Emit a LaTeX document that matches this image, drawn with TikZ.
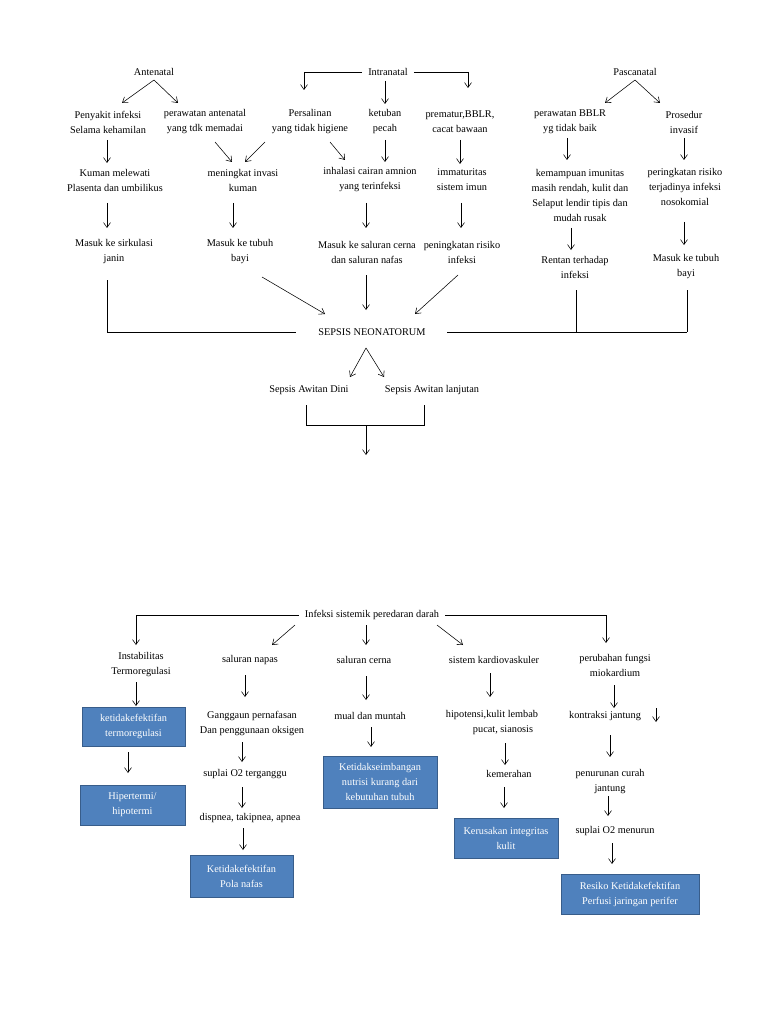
\documentclass[tikz,border=0pt]{standalone}
\usepackage{fontspec}
\setmainfont{Liberation Serif}
\usetikzlibrary{arrows.meta}
\begin{document}
\begin{tikzpicture}[x=1pt,y=-1pt,
  t/.style={align=center,font=\fontsize{10.3}{15}\selectfont,inner sep=1pt},
  bx/.style={t,draw={rgb,255:red,56;green,93;blue,138},fill={rgb,255:red,79;green,129;blue,189},text=white,line width=0.9pt,inner sep=0pt},
  a/.style={-{Straight Barb[length=5pt,width=7pt]},line width=0.55pt},
  l/.style={line width=0.55pt}]
\useasboundingbox (0,0) rectangle (768,1024);
% top
\node[t] (ante) at (154,72) {Antenatal};
\node[t] (intra) at (388,72) {Intranatal};
\node[t] (pasc) at (635,72) {Pascanatal};
\node[t] (peny) at (108,122) {Penyakit infeksi\\Selama kehamilan};
\node[t] (pera) at (205,122) {perawatan antenatal\\yang tdk memadai};
\node[t] (pers) at (310,122) {Persalinan\\yang tidak higiene};
\node[t] (ket) at (385,122) {ketuban\\pecah};
\node[t] (prem) at (460,122) {prematur,BBLR,\\cacat bawaan};
\node[t] (pbblr) at (570,122) {perawatan BBLR\\yg tidak baik};
\node[t] (pros) at (684,122) {Prosedur\\invasif};
\coordinate (iL) at (304,72); \coordinate (iR) at (468,72);
\draw[a] (154,80) -- (122,103);
\draw[a] (154,80) -- (178,103);
\draw[l,shorten <=5pt] (intra.west) -- (iL); \draw[a] (iL) -- (304,90);
\draw[l,shorten <=5pt] (intra.east) -- (iR); \draw[a] (iR) -- (468,88);
\draw[a] (385,81) -- (385,104);
\draw[a] (635,80) -- (605,103);
\draw[a] (635,80) -- (660,103);
% row 3
\node[t] (kum) at (115,180) {Kuman melewati\\Plasenta dan umbilikus};
\node[t] (men) at (243,180) {meningkat invasi\\kuman};
\node[t] (inh) at (370,180) {inhalasi cairan amnion\\yang terinfeksi};
\node[t] (imm) at (462,180) {immaturitas\\sistem imun};
\node[t] (kem) at (580,195) {kemampuan imunitas\\masih rendah, kulit dan\\Selaput lendir tipis dan\\mudah rusak};
\node[t] (peri) at (685,187) {peringkatan risiko\\terjadinya infeksi\\nosokomial};
\draw[a] (107,140) -- (107,163);
\draw[a] (215,142) -- (232,162);
\draw[a] (265,142) -- (245,162);
\draw[a] (330,142) -- (345,160);
\draw[a] (385,140) -- (385,162);
\draw[a] (460,140) -- (460,164);
\draw[a] (567,138) -- (567,160);
\draw[a] (684,138) -- (684,160);
% row 4
\node[t] (m1) at (114,252) {Masuk ke sirkulasi\\janin};
\node[t] (m2) at (240,252) {Masuk ke tubuh\\bayi};
\node[t] (m3) at (367,252) {Masuk ke saluran cerna\\dan saluran nafas};
\node[t] (m4) at (462,252) {peningkatan risiko\\infeksi};
\node[t] (m5) at (575,267) {Rentan terhadap\\infeksi};
\node[t] (m6) at (686,267) {Masuk ke tubuh\\bayi};
\draw[a] (107,203) -- (107,228);
\draw[a] (233,203) -- (233,228);
\draw[a] (366,203) -- (366,228);
\draw[a] (461,203) -- (461,228);
\draw[a] (571,228) -- (571,250);
\draw[a] (684,222) -- (684,245);
% sepsis
\node[t] (sep) at (372,332) {SEPSIS NEONATORUM};
\draw[l] (107,280) -- (107,332) -- (296,332);
\draw[l] (447,332) -- (687,332);
\draw[l] (576,290) -- (576,332);
\draw[l] (687,290) -- (687,332);
\draw[a] (262,277) -- (325,314);
\draw[a] (366,275) -- (366,310);
\draw[a] (458,275) -- (415,314);
\node[t] (dini) at (309,390) {Sepsis Awitan Dini};
\node[t] (lanj) at (432,390) {Sepsis Awitan lanjutan};
\draw[a] (366,348) -- (350,377);
\draw[a] (366,348) -- (384,377);
\coordinate (br) at (366,425);
\draw[l] (306,405) -- (306,425) -- (424,425) -- (424,405);
\draw[a] (br) -- (366,455);
% bottom
\node[t] (inf) at (372,615) {Infeksi sistemik peredaran darah};
\draw[l,shorten <=5pt] (inf.west) -- (136,615); \draw[a] (136,615) -- (136,645);
\draw[l,shorten <=5pt] (inf.east) -- (606,615); \draw[a] (606,615) -- (606,643);
\draw[a] (295,625) -- (272,645);
\draw[a] (366,625) -- (366,645);
\draw[a] (437,625) -- (463,645);
\node[t] (ins) at (141,665) {Instabilitas\\Termoregulasi};
\node[t] (snap) at (250,660) {saluran napas};
\node[t] (scer) at (364,660) {saluran cerna};
\node[t] (skar) at (494,660) {sistem kardiovaskuler};
\node[t] (pfun) at (615,665) {perubahan fungsi\\miokardium};
% col1
\node[bx,minimum width=103,minimum height=39] (b1) at (133.5,726.5) {ketidakefektifan\\termoregulasi};
\node[bx,minimum width=105,minimum height=40] (b2) at (132.5,805) {Hipertermi/\\hipotermi};
\draw[a] (136,682) -- (136,706);
\draw[a] (128,752) -- (128,773);
% col2
\node[t] (gang) at (252,723) {Ganggaun pernafasan\\Dan penggunaan oksigen};
\node[t] (sup1) at (245,774) {suplai O2 terganggu};
\node[t] (disp) at (250,818) {dispnea, takipnea, apnea};
\node[bx,minimum width=103,minimum height=42] (b3) at (241.5,876) {Ketidakefektifan\\Pola nafas};
\draw[a] (245,675) -- (245,697);
\draw[a] (242,742) -- (242,762);
\draw[a] (242,787) -- (242,808);
\draw[a] (243,828) -- (243,850);
% col3
\node[t] (mual) at (370,716) {mual dan muntah};
\node[bx,minimum width=114,minimum height=52] (b4) at (380,782) {Ketidakseimbangan\\nutrisi kurang dari\\kebutuhan tubuh};
\draw[a] (366,676) -- (366,700);
\draw[a] (371,727) -- (371,747);
% col4
\node[t] (hip) at (492,723) {hipotensi,kulit lembab\\\hspace*{22pt}pucat, sianosis};
\node[t] (kemr) at (509,774) {kemerahan};
\node[bx,minimum width=104,minimum height=40] (b5) at (506,838) {Kerusakan integritas\\kulit};
\draw[a] (490,673) -- (490,697);
\draw[a] (505,743) -- (505,765);
\draw[a] (504,787) -- (504,808);
% col5
\node[t] (kont) at (605,716) {kontraksi jantung};
\coordinate (xa) at (656,708);
\draw[a] (xa) -- (656,722);
\node[t] (pen) at (610,782) {penurunan curah\\jantung};
\node[t] (sup2) at (615,831) {suplai O2 menurun};
\node[bx,minimum width=138,minimum height=40] (b6) at (630,894) {Resiko Ketidakefektifan\\Perfusi jaringan perifer};
\draw[a] (614,685) -- (614,708);
\draw[a] (610,735) -- (610,757);
\draw[a] (608,796) -- (608,816);
\draw[a] (612,843) -- (612,864);
\end{tikzpicture}
\end{document}
